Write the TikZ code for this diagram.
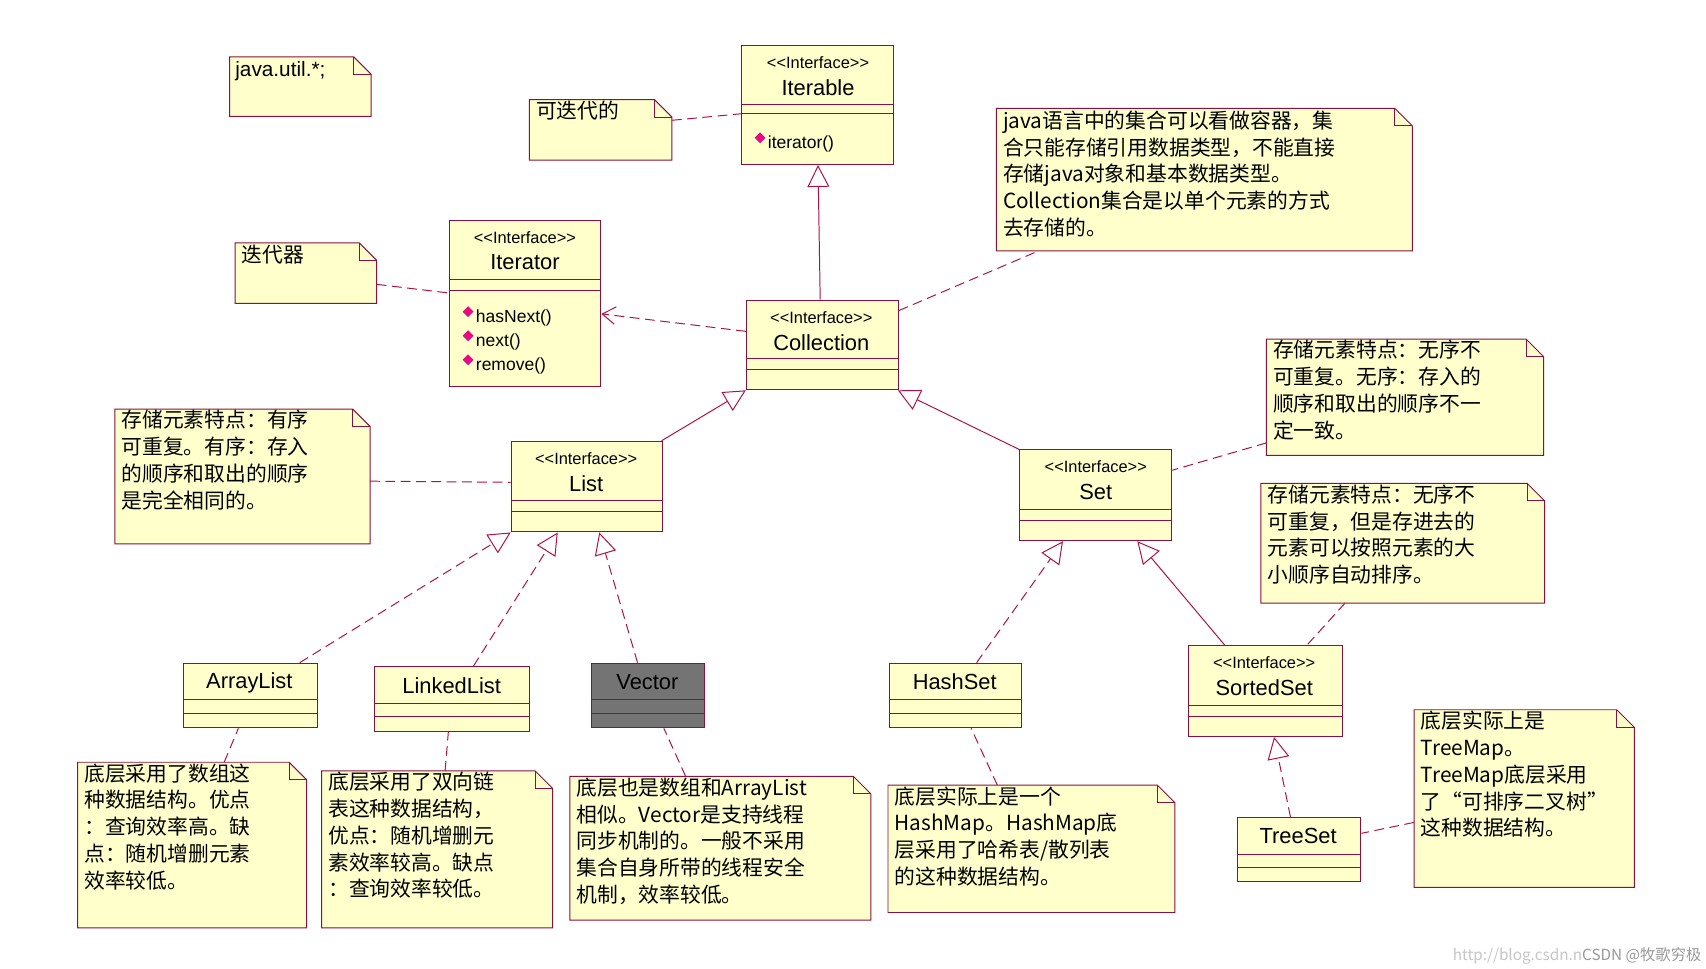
\documentclass[tikz,border=0pt]{standalone}
\usepackage{fontspec}
\setmainfont{Liberation Sans}
\newfontfamily\cjk{Noto Sans CJK SC}
\usetikzlibrary{arrows.meta,calc}
\definecolor{bord}{HTML}{8A1040}
\definecolor{yel}{HTML}{FFFFCC}
\definecolor{lnk}{HTML}{B0104A}
\tikzset{
  x=1pt,y=-1pt,
  box/.style={draw=bord,fill=yel,line width=0.9pt,anchor=north west,inner sep=0pt},
  holder/.style={anchor=north west,inner sep=0pt},
  ntext/.style={anchor=north west,align=left,font=\cjk\fontsize{19}{24.5}\selectfont,inner sep=0pt},
  stereo/.style={font=\fontsize{15}{16}\selectfont,inner sep=0pt},
  cname/.style={font=\fontsize{20}{22}\selectfont,inner sep=0pt},
  meth/.style={font=\fontsize{16}{18}\selectfont,anchor=west,inner sep=0pt},
  dep/.style={draw=lnk,line width=0.9pt,dash pattern=on 9pt off 5pt},
  sol/.style={draw=lnk,line width=0.9pt},
  tri/.style={-{Triangle[open,length=20pt,width=20pt,fill=white]}},
  vee/.style={-{Straight Barb[length=12pt,width=16pt]}},
}
\newcommand{\nt}[5]{% name x1 y1 x2 y2
  \node[holder,minimum width=#4-#2,minimum height=#5-#3] (#1) at (#2,#3) {};
  \draw[draw=bord,fill=yel,line width=0.9pt] (#1.north west) -- ($(#1.north east)+(-16,0)$) -- ($(#1.north east)+(0,16)$) -- (#1.south east) -- (#1.south west) -- cycle;
  \draw[draw=bord,line width=0.9pt] ($(#1.north east)+(-16,0)$) -- ($(#1.north east)+(-16,16)$) -- ($(#1.north east)+(0,16)$);
}
\newcommand{\cls}[7]{% name x1 y1 x2 y2 line1 line2 (offsets from top)
  \node[box,minimum width=#4-#2,minimum height=#5-#3] (#1) at (#2,#3) {};
  \draw[draw=bord,line width=0.9pt] ($(#1.north west)+(0,#6)$) -- ($(#1.north east)+(0,#6)$);
  \draw[draw=bord,line width=0.9pt] ($(#1.north west)+(0,#7)$) -- ($(#1.north east)+(0,#7)$);
}
\newcommand{\dia}[1]{\fill[magenta!85!purple] ($(#1)+(-5,0)$) -- ++(5,-5) -- ++(5,5) -- ++(-5,5) -- cycle;}
\begin{document}
\begin{tikzpicture}
\useasboundingbox[fill=white] (0,0) rectangle (1560,886);
% classes
\cls{iterable}{678}{41}{817}{150}{55}{63}
\node[stereo] (iterableS) at (748,57) {<{}<Interface>{}>};
\node[cname] (iterableN) at (748,80) {Iterable};
\dia{695,126}\node[meth] (itm) at (702,132) {iterator()};
\cls{iterator}{411}{201}{549}{353}{55}{65}
\node[stereo] (iteratorS) at (480,217) {<{}<Interface>{}>};
\node[cname] (iteratorN) at (480,240) {Iterator};
\dia{428,285}\node[meth] (m1) at (435,291) {hasNext()};
\dia{428,307}\node[meth] (m2) at (435,313) {next()};
\dia{428,329}\node[meth] (m3) at (435,335) {remove()};
\cls{collection}{682}{274}{821}{356}{54}{64}
\node[stereo] (collS) at (751,290) {<{}<Interface>{}>};
\node[cname] (collN) at (751,313) {Collection};
\cls{list}{467}{403}{605}{486}{55}{65}
\node[stereo] (listS) at (536,419) {<{}<Interface>{}>};
\node[cname] (listN) at (536,442) {List};
\cls{set}{932}{411}{1071}{494}{55}{65}
\node[stereo] (setS) at (1002,427) {<{}<Interface>{}>};
\node[cname] (setN) at (1002,450) {Set};
\cls{arraylist}{167}{606}{290}{665}{34}{46}
\node[cname] (alN) at (228,624) {ArrayList};
\cls{linkedlist}{342}{609}{484}{668}{34}{46}
\node[cname] (llN) at (413,627) {LinkedList};
\node[box,fill=gray!85!black!95,minimum width=104,minimum height=59] (vector) at (540,606) {};
\draw[draw=bord,line width=0.9pt] ($(vector.north west)+(0,34)$) -- ($(vector.north east)+(0,34)$);
\draw[draw=bord,line width=0.9pt] ($(vector.north west)+(0,46)$) -- ($(vector.north east)+(0,46)$);
\node[cname] (vN) at (592,624) {Vector};
\cls{hashset}{813}{606}{934}{665}{34}{46}
\node[cname] (hsN) at (873,623) {HashSet};
\cls{sortedset}{1086}{590}{1227}{673}{55}{65}
\node[stereo] (ssS) at (1156,606) {<{}<Interface>{}>};
\node[cname] (ssN) at (1156,629) {SortedSet};
\cls{treeset}{1131}{747}{1244}{806}{34}{46}
\node[cname] (tsN) at (1187,764) {TreeSet};
% notes
\nt{njava}{210}{52}{339}{106}
\node[ntext,font=\fontsize{19}{22}\selectfont] at (215,56) {java.util.*;};
\nt{niter}{484}{91}{614}{146}
\node[ntext] at (490,92) {可迭代的};
\nt{nitor}{215}{222}{344}{277}
\node[ntext] at (221,224) {迭代器};
\nt{nbig}{911}{99}{1291}{229}
\node[ntext] at (917,101) {java语言中的集合可以看做容器，集\\合只能存储引用数据类型，不能直接\\存储java对象和基本数据类型。\\Collection集合是以单个元素的方式\\去存储的。};
\nt{nlist}{105}{374}{338}{497}
\node[ntext] at (111,375) {存储元素特点：有序\\可重复。有序：存入\\的顺序和取出的顺序\\是完全相同的。};
\nt{nset}{1158}{310}{1411}{416}
\node[ntext] at (1164,311) {存储元素特点：无序不\\可重复。无序：存入的\\顺序和取出的顺序不一\\定一致。};
\nt{nsorted}{1153}{442}{1412}{551}
\node[ntext] at (1159,443) {存储元素特点：无序不\\可重复，但是存进去的\\元素可以按照元素的大\\小顺序自动排序。};
\nt{nal}{71}{697}{280}{848}
\node[ntext] at (77,698) {底层采用了数组这\\种数据结构。优点\\：查询效率高。缺\\点：随机增删元素\\效率较低。};
\nt{nll}{294}{705}{505}{848}
\node[ntext] at (300,706) {底层采用了双向链\\表这种数据结构，\\优点：随机增删元\\素效率较高。缺点\\：查询效率较低。};
\nt{nvec}{521}{710}{796}{841}
\node[ntext] at (527,711) {底层也是数组和ArrayList\\相似。Vector是支持线程\\同步机制的。一般不采用\\集合自身所带的线程安全\\机制，效率较低。};
\nt{nhs}{812}{718}{1074}{834}
\node[ntext] at (818,719) {底层实际上是一个\\HashMap。HashMap底\\层采用了哈希表/散列表\\的这种数据结构。};
\nt{ntm}{1293}{649}{1494}{811}
\node[ntext] at (1299,650) {底层实际上是\\TreeMap。\\TreeMap底层采用\\了“可排序二叉树”\\这种数据结构。};
% connectors
\path[dep] (niter.east |- 0,110) -- (iterable.west |- 0,104);
\path[sol,tri] (collection.north -| 750,0) -- (iterable.south -| 748,0);
\path[dep,vee] (collection.west |- 0,303) -- (iterator.east |- 0,287);
\path[dep] (nitor.east |- 0,260) -- (iterator.west |- 0,268);
\path[dep] (946,231) -- (collection.east |- 0,284);
\path[sol,tri] (list.north -| 605,0) -- (collection.south -| 682,0);
\path[sol,tri] (set.north -| 932,0) -- (collection.south -| 821,0);
\path[dep] (nlist.east |- 0,440) -- (list.west |- 0,441);
\path[dep] (nset.west |- 0,405) -- (set.east |- 0,430);
\path[dep,tri] (arraylist.north -| 274,0) -- (list.south -| 467,0);
\path[dep,tri] (linkedlist.north -| 433,0) -- (list.south -| 510,0);
\path[dep,tri] (vector.north -| 583,0) -- (list.south -| 548,0);
\path[dep,tri] (hashset.north -| 893,0) -- (set.south -| 972,0);
\path[sol,tri] (sortedset.north -| 1120,0) -- (set.south -| 1040,0);
\path[dep] (nsorted.south -| 1230,0) -- (sortedset.north -| 1195,0);
\path[dep,tri] (treeset.north -| 1180,0) -- (sortedset.south -| 1165,0);
\path[dep] (ntm.west |- 0,752) -- (treeset.east |- 0,762);
\path[dep] (nal.north -| 205,0) -- (arraylist.south -| 218,0);
\path[dep] (nll.north -| 407,0) -- (linkedlist.south -| 410,0);
\path[dep] (nvec.north -| 627,0) -- (vector.south -| 607,0);
\path[dep] (nhs.north -| 912,0) -- (hashset.south -| 888,0);
\node[anchor=south east,text=gray!45,font=\cjk\fontsize{14}{16}\selectfont,inner sep=0pt] (wm) at (1556,882) {http://blog.csdn.n\textcolor{gray!80}{CSDN @牧歌穷极}};
\end{tikzpicture}
\end{document}
